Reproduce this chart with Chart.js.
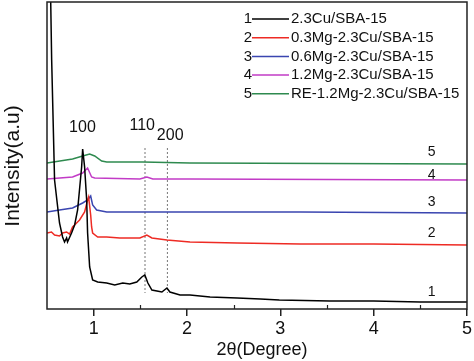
<!DOCTYPE html>
<html>
<head>
<meta charset="utf-8">
<script src="https://cdn.jsdelivr.net/npm/chart.js@4/dist/chart.umd.min.js"></script>
<style>
html,body{margin:0;padding:0;background:#fff;}
#wrap{width:474px;height:361px;}
</style>
</head>
<body>
<div id="wrap"><canvas id="c" width="474" height="361"></canvas></div>
<script>
// ---- data ----
const seriesLabels = ['2.3Cu/SBA-15','0.3Mg-2.3Cu/SBA-15','0.6Mg-2.3Cu/SBA-15','1.2Mg-2.3Cu/SBA-15','RE-1.2Mg-2.3Cu/SBA-15'];
const seriesNumbers = ['1','2','3','4','5'];
const seriesColors = ['#000000','#ee2b24','#3a45b0','#c23bc6','#2e8a4f'];

const x1 = [0.50,0.540,0.550,0.581,0.634,0.667,0.688,0.710,0.720,0.763,0.796,0.828,0.871,0.882,0.903,0.925,0.935,0.957,0.989,1.043,1.14,1.226,1.312,1.387,1.462,1.516,1.548,1.581,1.624,1.731,1.785,1.817,1.925,2.032,2.247,2.538,2.785,2.989,3.53,4.0,4.5,5.0];
const y1 = [500,306,249,129,86,72,67,71,67,76,84,99,142,160,142,109,76,42,29,27,26,24,26,25,27,32,34,26,19,17,21,17,14,14,12,11,10,9,8,8,7,7];

const x2 = [0.50,0.548,0.581,0.634,0.667,0.710,0.742,0.774,0.849,0.903,0.935,0.946,0.968,0.978,0.989,1.043,1.14,1.28,1.495,1.57,1.624,1.785,2.032,2.538,3.215,4.0,5.0];
const y2 = [76,77,74,73,76,77,75,82,89,97,109,112,94,82,76,72,72,71,71,74,71,69,67,66,65,65,64];

const x3 = [0.50,0.634,0.774,0.882,0.935,0.968,0.989,1.032,1.14,2.032,3.215,5.0];
const y3 = [97,99,101,106,109,113,104,99,97,97,97,96];

const x4 = [0.50,0.774,0.882,0.935,0.978,1.011,1.495,1.57,1.634,2.032,5.0];
const y4 = [130,132,136,141,132,131,130,132,130,130,129];

const x5 = [0.50,0.774,0.882,0.957,1.011,1.086,1.14,1.527,2.032,5.0];
const y5 = [146,150,153,155,153,148,147,147,146,145];

const refLineX = [1.55, 1.79];
const refLineY = [161, 16];

const xTickValues = [1,2,3,4,5];
const xMinorTicks = [1.5,2.5,3.5,4.5];

const peakLabels = ['100','110','200'];
const peakX = [0.88,1.52,1.82];
const peakY = [181,183,173];

const curveNumX = 4.62;
const curveNumY = [17,76,107,134,157];

const xTitle = '2θ(Degree)';
const yTitle = 'Intensity(a.u)';

// ---- build ----
const FONT = '"Liberation Sans", Arial, sans-serif';
const xs = [x1,x2,x3,x4,x5], ys = [y1,y2,y3,y4,y5];
const datasets = xs.map((xa,i)=>({
  label: seriesLabels[i],
  data: xa.map((x,j)=>({x:x,y:ys[i][j]})),
  borderColor: seriesColors[i],
  borderWidth: 1.5,
  pointRadius: 0,
  tension: 0,
  fill: false
}));
refLineX.forEach(x=>{
  datasets.push({
    label: '',
    data: refLineY.map(y=>({x:x,y:y})),
    borderColor: '#777',
    borderWidth: 1,
    borderDash: [2,2],
    pointRadius: 0,
    isRef: true
  });
});

const decor = {
  id: 'decor',
  afterDatasetsDraw(chart){
    const ctx = chart.ctx, a = chart.chartArea;
    const sx = chart.scales.x, sy = chart.scales.y;
    ctx.save();
    // frame
    ctx.strokeStyle = '#222';
    ctx.lineWidth = 1.5;
    ctx.strokeRect(a.left, a.top, a.right-a.left, a.bottom-a.top);
    // minor ticks (inside)
    ctx.lineWidth = 1.2;
    xMinorTicks.forEach(v=>{
      const px = Math.round(sx.getPixelForValue(v))+0.5;
      ctx.beginPath(); ctx.moveTo(px, a.bottom); ctx.lineTo(px, a.bottom-4); ctx.stroke();
    });
    // peak labels
    ctx.fillStyle = '#111';
    ctx.font = '16px ' + FONT;
    ctx.textAlign = 'center'; ctx.textBaseline = 'middle';
    peakLabels.forEach((t,i)=>ctx.fillText(t, sx.getPixelForValue(peakX[i]), sy.getPixelForValue(peakY[i])));
    // curve numbers
    ctx.font = '14px ' + FONT;
    seriesNumbers.forEach((t,i)=>ctx.fillText(t, sx.getPixelForValue(curveNumX), sy.getPixelForValue(curveNumY[i])));
    // legend
    ctx.font = '15px ' + FONT;
    seriesLabels.forEach((t,i)=>{
      const y = 19 + i*18.7;
      ctx.fillStyle = '#111';
      ctx.textAlign = 'right';
      ctx.fillText(seriesNumbers[i], 252, y);
      ctx.strokeStyle = seriesColors[i];
      ctx.lineWidth = 1.5;
      ctx.beginPath(); ctx.moveTo(252, y); ctx.lineTo(289, y); ctx.stroke();
      ctx.textAlign = 'left';
      ctx.fillText(t, 291, y);
    });
    // axis titles
    ctx.fillStyle = '#111';
    ctx.font = '18px ' + FONT;
    ctx.textAlign = 'center';
    ctx.fillText(xTitle, 262, 350);
    ctx.save();
    ctx.translate(13, 166);
    ctx.rotate(-Math.PI/2);
    ctx.font = '21px ' + FONT;
    ctx.fillText(yTitle, 0, 0);
    ctx.restore();
    ctx.restore();
  }
};

new Chart(document.getElementById('c'), {
  type: 'line',
  data: { datasets: datasets },
  options: {
    responsive: false,
    animation: false,
    devicePixelRatio: 1,
    layout: { padding: { top: 2, right: 7, left: 0, bottom: 0 } },
    plugins: { legend: { display: false }, tooltip: { enabled: false } },
    scales: {
      x: {
        type: 'linear', min: 0.5, max: 5,
        afterBuildTicks: s => { s.ticks = xTickValues.map(v=>({value:v})); },
        afterFit: s => { s.height = 52; },
        ticks: { font: { size: 18, family: FONT }, color: '#111', padding: 2, maxRotation: 0,
                 callback: v => String(v) },
        grid: { drawOnChartArea: false, tickLength: 7, color: '#222', lineWidth: 1.5 },
        border: { display: false }
      },
      y: {
        type: 'linear', min: 0, max: 307,
        afterFit: s => { s.width = 47; },
        ticks: { display: false },
        grid: { display: false },
        border: { display: false }
      }
    }
  },
  plugins: [decor]
});
</script>
</body>
</html>
